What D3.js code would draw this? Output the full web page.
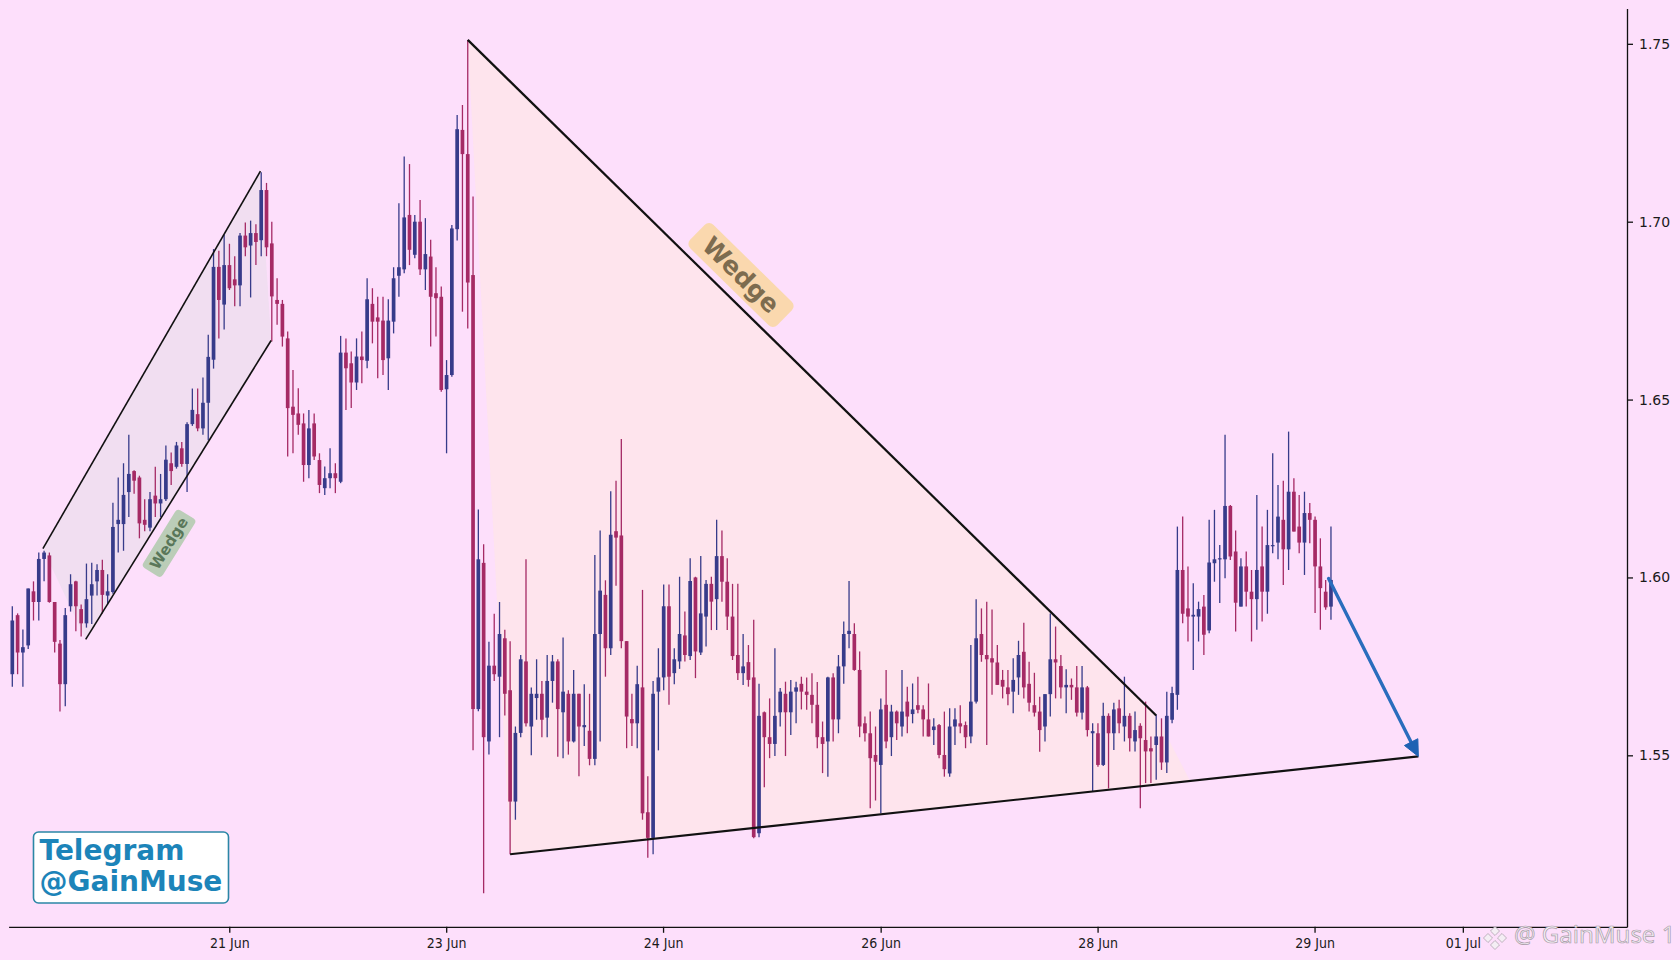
<!DOCTYPE html>
<html><head><meta charset="utf-8">
<script src="https://cdn.jsdelivr.net/npm/d3@7"></script>
<style>
html,body{margin:0;padding:0;background:#fddffb;}
svg{display:block;}
</style></head><body>
<svg id="chart" width="1680" height="960"></svg>
<script>
// ---- data (OHLC per candle, index order) ----
const opens=[1.5728,1.5894,1.5789,1.5809,1.5961,1.5931,1.6052,1.6062,1.5931,1.5814,1.5700,1.5919,1.5989,1.5911,1.5871,1.5949,1.5989,1.6021,1.5949,1.5959,
1.6150,1.6150,1.6240,1.6299,1.6281,1.6162,1.6140,1.6230,1.6208,1.6220,1.6321,1.6311,1.6363,1.6319,1.6431,1.6459,1.6419,1.6491,1.6612,1.6873,
1.6767,1.6878,1.6838,1.6821,1.6961,1.6933,1.6968,1.6948,1.7089,1.6939,1.6780,1.6769,1.6672,1.6480,1.6461,1.6433,1.6316,1.6433,1.6330,1.6251,
1.6279,1.6293,1.6269,1.6632,1.6602,1.6548,1.6621,1.6609,1.6769,1.6731,1.6722,1.6616,1.6719,1.6848,1.6866,1.7019,1.6907,1.7000,1.6866,1.6902,
1.6799,1.6789,1.6529,1.6569,1.6979,1.7258,1.7190,1.6850,1.5630,1.6041,1.5539,1.5752,1.5721,1.5829,1.5683,1.5370,1.5563,1.5764,1.5581,1.5661,
1.5673,1.5606,1.5709,1.5764,1.5621,1.5673,1.5539,1.5673,1.5579,1.5569,1.5490,1.5841,1.5951,1.5801,1.6130,1.6118,1.5821,1.5602,1.5590,1.5691,
1.5340,1.5268,1.5679,1.5719,1.5919,1.5731,1.5764,1.5837,1.5779,1.6000,1.5789,1.5890,1.5982,1.5939,1.6060,1.5988,1.5890,1.5782,1.5731,1.5762,
1.5719,1.5281,1.5621,1.5551,1.5532,1.5621,1.5673,1.5621,1.5679,1.5701,1.5679,1.5670,1.5642,1.5551,1.5539,1.5719,1.5601,1.5750,1.5841,1.5841,
1.5740,1.5590,1.5562,1.5501,1.5473,1.5642,1.5551,1.5623,1.5581,1.5651,1.5616,1.5641,1.5629,1.5601,1.5571,1.5585,1.5501,1.5449,1.5581,1.5590,
1.5585,1.5553,1.5651,1.5841,1.5782,1.5773,1.5761,1.5712,1.5691,1.5679,1.5719,1.5791,1.5701,1.5641,1.5623,1.5581,1.5672,1.5770,1.5751,1.5691,
1.5698,1.5691,1.5620,1.5691,1.5562,1.5562,1.5473,1.5611,1.5562,1.5632,1.5581,1.5611,1.5539,1.5583,1.5543,1.5520,1.5529,1.5553,1.5480,1.5600,
1.5670,1.6021,1.5913,1.5890,1.5890,1.5918,1.5851,1.6040,1.6051,1.6051,1.6201,1.6073,1.5918,1.6031,1.5960,1.5939,1.6031,1.5960,1.6089,1.6098,
1.6162,1.6079,1.6241,1.6143,1.6098,1.6181,1.6162,1.6031,1.5960,1.5918];
const highs=[1.5919,1.5899,1.5854,1.5969,1.5989,1.6070,1.6075,1.6070,1.5931,1.5824,1.5914,1.6009,1.5991,1.5924,1.6039,1.6041,1.6037,1.6050,1.6009,1.6210,
1.6281,1.6321,1.6401,1.6301,1.6286,1.6220,1.6240,1.6311,1.6291,1.6371,1.6351,1.6381,1.6381,1.6436,1.6531,1.6531,1.6562,1.6682,1.6923,1.6918,
1.6963,1.6938,1.6903,1.6968,1.6998,1.7003,1.6993,1.7139,1.7109,1.7000,1.6841,1.6780,1.6691,1.6583,1.6532,1.6461,1.6471,1.6461,1.6349,1.6312,
1.6363,1.6321,1.6679,1.6672,1.6635,1.6672,1.6691,1.6841,1.6813,1.6789,1.6789,1.6782,1.6872,1.7052,1.7183,1.7162,1.7019,1.7061,1.7010,1.6949,
1.6872,1.6818,1.6611,1.6991,1.7300,1.7328,1.7511,1.7071,1.6191,1.6093,1.5819,1.5898,1.5931,1.5853,1.5821,1.5581,1.5782,1.6051,1.5691,1.5770,
1.5709,1.5782,1.5782,1.5770,1.5831,1.5683,1.5740,1.5673,1.5700,1.5673,1.6063,1.6132,1.5992,1.6242,1.6272,1.6389,1.5821,1.5673,1.5752,1.5965,
1.5441,1.5709,1.5801,1.5980,1.5980,1.5801,1.6002,1.5904,1.6054,1.6002,1.6060,1.5993,1.6002,1.6162,1.6132,1.6054,1.5982,1.5982,1.5841,1.5810,
1.5881,1.5701,1.5623,1.5660,1.5801,1.5689,1.5707,1.5712,1.5707,1.5721,1.5719,1.5731,1.5706,1.5595,1.5721,1.5731,1.5782,1.5876,1.5990,1.5871,
1.5792,1.5609,1.5623,1.5581,1.5660,1.5740,1.5642,1.5626,1.5740,1.5693,1.5702,1.5721,1.5641,1.5702,1.5604,1.5588,1.5623,1.5632,1.5632,1.5641,
1.5595,1.5810,1.5939,1.5913,1.5932,1.5910,1.5810,1.5740,1.5740,1.5773,1.5822,1.5873,1.5763,1.5732,1.5665,1.5672,1.5899,1.5862,1.5782,1.5742,
1.5716,1.5751,1.5751,1.5695,1.5590,1.5590,1.5648,1.5618,1.5648,1.5656,1.5721,1.5618,1.5623,1.5590,1.5651,1.5553,1.5614,1.5604,1.5679,1.5693,
1.6143,1.6171,1.6031,1.5984,1.5932,1.5951,1.6162,1.6190,1.6091,1.6401,1.6204,1.6132,1.6054,1.6073,1.6021,1.6232,1.6143,1.6190,1.6349,1.6260,
1.6272,1.6410,1.6279,1.6232,1.6241,1.6209,1.6171,1.6110,1.5993,1.6143];
const lows=[1.5693,1.5728,1.5693,1.5799,1.5879,1.5879,1.5989,1.5929,1.5789,1.5623,1.5638,1.5904,1.5849,1.5834,1.5859,1.5869,1.5949,1.5899,1.5924,1.5954,
1.6070,1.6075,1.6170,1.6235,1.6110,1.6130,1.6130,1.6170,1.6170,1.6215,1.6260,1.6306,1.6311,1.6240,1.6426,1.6411,1.6401,1.6386,1.6587,1.6672,
1.6697,1.6808,1.6762,1.6762,1.6903,1.6787,1.6878,1.6903,1.6903,1.6663,1.6710,1.6649,1.6340,1.6349,1.6401,1.6269,1.6279,1.6330,1.6237,1.6232,
1.6251,1.6237,1.6265,1.6471,1.6476,1.6527,1.6546,1.6588,1.6658,1.6560,1.6569,1.6527,1.6686,1.6789,1.6855,1.6878,1.6897,1.6850,1.6808,1.6649,
1.6677,1.6522,1.6349,1.6564,1.6947,1.6747,1.6700,1.5514,1.5624,1.5112,1.5502,1.5709,1.5551,1.5612,1.5222,1.5319,1.5551,1.5581,1.5500,1.5600,
1.5551,1.5551,1.5648,1.5496,1.5492,1.5502,1.5536,1.5441,1.5526,1.5472,1.5472,1.5539,1.5721,1.5782,1.5977,1.5801,1.5520,1.5526,1.5520,1.5319,
1.5212,1.5222,1.5514,1.5683,1.5642,1.5700,1.5743,1.5764,1.5768,1.5717,1.5782,1.5806,1.5852,1.5852,1.5932,1.5852,1.5768,1.5712,1.5698,1.5693,
1.5267,1.5270,1.5410,1.5492,1.5498,1.5581,1.5498,1.5557,1.5590,1.5629,1.5628,1.5590,1.5520,1.5450,1.5440,1.5539,1.5562,1.5701,1.5801,1.5738,
1.5551,1.5539,1.5351,1.5373,1.5337,1.5520,1.5498,1.5543,1.5553,1.5562,1.5590,1.5618,1.5553,1.5553,1.5529,1.5492,1.5440,1.5440,1.5529,1.5562,
1.5520,1.5534,1.5646,1.5763,1.5529,1.5670,1.5698,1.5660,1.5641,1.5618,1.5670,1.5660,1.5623,1.5609,1.5510,1.5539,1.5609,1.5660,1.5660,1.5618,
1.5656,1.5609,1.5601,1.5553,1.5398,1.5468,1.5470,1.5407,1.5515,1.5562,1.5539,1.5511,1.5511,1.5351,1.5422,1.5422,1.5431,1.5459,1.5450,1.5590,
1.5628,1.5871,1.5820,1.5740,1.5820,1.5782,1.5843,1.5988,1.5928,1.5998,1.6049,1.5848,1.5918,1.5918,1.5820,1.5853,1.5876,1.5898,1.6068,1.6051,
1.5979,1.6021,1.6129,1.6068,1.6007,1.6096,1.5900,1.5853,1.5909,1.5881];
const closes=[1.5879,1.5789,1.5804,1.5969,1.5931,1.6052,1.6070,1.5931,1.5819,1.5700,1.5894,1.5981,1.5919,1.5871,1.5939,1.5981,1.6021,1.5951,1.5961,1.6142,
1.6162,1.6232,1.6291,1.6272,1.6152,1.6148,1.6220,1.6208,1.6220,1.6331,1.6299,1.6371,1.6319,1.6431,1.6471,1.6419,1.6491,1.6620,1.6873,1.6780,
1.6878,1.6813,1.6821,1.6961,1.6928,1.6968,1.6943,1.7089,1.6928,1.6790,1.6769,1.6677,1.6476,1.6457,1.6429,1.6316,1.6419,1.6340,1.6260,1.6279,
1.6293,1.6279,1.6632,1.6588,1.6548,1.6621,1.6611,1.6782,1.6719,1.6719,1.6611,1.6722,1.6841,1.6872,1.7012,1.6921,1.7000,1.6866,1.6909,1.6789,
1.6785,1.6527,1.6569,1.6981,1.7260,1.7190,1.6829,1.5630,1.6051,1.5551,1.5752,1.5728,1.5841,1.5673,1.5370,1.5563,1.5770,1.5590,1.5673,1.5673,
1.5600,1.5709,1.5764,1.5630,1.5679,1.5539,1.5673,1.5581,1.5585,1.5490,1.5841,1.5963,1.5801,1.6120,1.6112,1.5821,1.5609,1.5590,1.5700,1.5337,
1.5268,1.5673,1.5719,1.5919,1.5721,1.5770,1.5841,1.5782,1.5990,1.5792,1.5899,1.5982,1.5932,1.6060,1.5988,1.5890,1.5779,1.5731,1.5750,1.5712,
1.5270,1.5611,1.5551,1.5532,1.5611,1.5679,1.5621,1.5679,1.5691,1.5679,1.5670,1.5642,1.5551,1.5532,1.5719,1.5601,1.5750,1.5841,1.5850,1.5740,
1.5581,1.5562,1.5492,1.5482,1.5629,1.5539,1.5623,1.5590,1.5623,1.5609,1.5629,1.5628,1.5601,1.5553,1.5581,1.5501,1.5461,1.5581,1.5601,1.5581,
1.5551,1.5651,1.5829,1.5782,1.5770,1.5761,1.5698,1.5693,1.5672,1.5712,1.5782,1.5691,1.5648,1.5620,1.5571,1.5672,1.5770,1.5761,1.5691,1.5698,
1.5691,1.5620,1.5691,1.5571,1.5568,1.5473,1.5611,1.5562,1.5629,1.5590,1.5611,1.5548,1.5571,1.5548,1.5511,1.5511,1.5553,1.5480,1.5611,1.5675,
1.6021,1.5898,1.5890,1.5895,1.5911,1.5839,1.6042,1.6051,1.6054,1.6201,1.6059,1.5929,1.6031,1.5960,1.5939,1.6021,1.5960,1.6091,1.6091,1.6171,
1.6079,1.6241,1.6129,1.6098,1.6181,1.6162,1.6031,1.5970,1.5916,1.5993];

const xTickPos=[40.97,81.93,122.88,163.97,204.93,245.9,273.9];
const xTickLabels=["21 Jun","23 Jun","24 Jun","26 Jun","28 Jun","29 Jun","01 Jul"];
const yTicks=[1.55,1.60,1.65,1.70,1.75];

// annotation geometry in data space: [candle index, price]
const smallWedgeUpper=[[5.78,1.6081],[46.85,1.7142]];
const smallWedgeLower=[[13.86,1.5826],[48.87,1.6666]];
const bigWedgeUpper=[[86,1.7511],[216,1.5612]];
const bigWedgeLower=[[94,1.5222],[265.5,1.5497]];
const bigWedgeFill=[[86,1.7511],[216,1.5612],[222.4,1.5428],[94,1.5222]];
const projection=[[248.55,1.5997],[265.5,1.5497]];
const bigLabel={i:137.6,p:1.6850,text:"Wedge"};
const smallLabel={i:29.6,p:1.6096,text:"Wedge"};
const brandLines=["Telegram","@GainMuse"];
const watermark="@ GainMuse 1";

// ---- drawing ----
const W=1680,H=960;
const svg=d3.select("#chart");
const x=d3.scaleLinear().domain([-0.7,304.9]).range([8.6,1627]);
const y=d3.scaleLinear().domain([1.5018,1.7599]).range([926.8,8.6]);
const candles=opens.map((o,i)=>({i,o,h:highs[i],l:lows[i],c:closes[i]}));
const UP="#373b8a", DOWN="#a52a65";

svg.append("rect").attr("width",W).attr("height",H).attr("fill","#fddffb");

const line=d3.line().x(d=>x(d[0])).y(d=>y(d[1]));

// fills
svg.append("path")
  .attr("d",line([smallWedgeUpper[0],smallWedgeUpper[1],smallWedgeLower[1],smallWedgeLower[0]])+"Z")
  .attr("fill","#dcdce2").attr("fill-opacity",0.38);
svg.append("path")
  .attr("d",line(bigWedgeFill)+"Z")
  .attr("fill","#ffe8e2").attr("fill-opacity",0.55);

// candles
const g=svg.append("g");
g.selectAll("line.wick").data(candles).join("line")
  .attr("x1",d=>x(d.i)).attr("x2",d=>x(d.i))
  .attr("y1",d=>y(d.h)).attr("y2",d=>y(d.l))
  .attr("stroke",d=>d.c>=d.o?UP:DOWN).attr("stroke-width",1.3);
const bw=3.7;
g.selectAll("rect.body").data(candles).join("rect")
  .attr("x",d=>x(d.i)-bw/2).attr("width",bw)
  .attr("y",d=>y(Math.max(d.o,d.c)))
  .attr("height",d=>Math.max(1.2,Math.abs(y(d.o)-y(d.c))))
  .attr("fill",d=>d.c>=d.o?UP:DOWN);

// wedge lines
[[smallWedgeUpper,1.6],[smallWedgeLower,1.6],[bigWedgeUpper,2.2],[bigWedgeLower,2.2]].forEach(([pts,w])=>{
  svg.append("path").attr("d",line(pts)).attr("fill","none").attr("stroke","#111").attr("stroke-width",w);
});

// projection arrow
{
  const [a,b]=projection;
  const x1=x(a[0]),y1=y(a[1]),x2=x(b[0]),y2=y(b[1]);
  const len=Math.hypot(x2-x1,y2-y1), ux=(x2-x1)/len, uy=(y2-y1)/len, px=-uy, py=ux;
  const hl=16, hw=7.5;
  const bx=x2-ux*hl, by=y2-uy*hl;
  svg.append("line").attr("x1",x1).attr("y1",y1).attr("x2",bx+ux*2).attr("y2",by+uy*2)
    .attr("stroke","#2a6dbd").attr("stroke-width",3.4).attr("stroke-linecap","round");
  svg.append("path").attr("d",`M${x2},${y2}L${bx+px*hw},${by+py*hw}L${bx-px*hw},${by-py*hw}Z`)
    .attr("fill","#1f62b3").attr("stroke","#1f62b3").attr("stroke-width",1);
}

// labels
function rotLabel(lbl,angle,fs,bwid,bhei,fill,fillOp,color,rx){
  const gg=svg.append("g").attr("transform",`translate(${x(lbl.i)},${y(lbl.p)}) rotate(${angle})`);
  gg.append("rect").attr("x",-bwid/2).attr("y",-bhei/2).attr("width",bwid).attr("height",bhei)
    .attr("rx",rx).attr("fill",fill).attr("fill-opacity",fillOp);
  gg.append("text").attr("text-anchor","middle").attr("dominant-baseline","central")
    .attr("font-family","DejaVu Sans, sans-serif").attr("font-weight","bold").attr("font-size",fs)
    .attr("fill",color).text(lbl.text);
}
const angBig=Math.atan2(y(bigWedgeUpper[1][1])-y(bigWedgeUpper[0][1]),x(bigWedgeUpper[1][0])-x(bigWedgeUpper[0][0]))*180/Math.PI;
const angSmall=Math.atan2(y(smallWedgeLower[1][1])-y(smallWedgeLower[0][1]),x(smallWedgeLower[1][0])-x(smallWedgeLower[0][0]))*180/Math.PI;
rotLabel(bigLabel,angBig,25,122,33,"#f9d7a0",0.85,"#7d6c4f",6);
rotLabel(smallLabel,angSmall,15,68,23,"#afcaab",0.85,"#5a775a",4);

// axes
const xAxis=d3.axisBottom(x).tickValues(xTickPos).tickFormat((d,i)=>xTickLabels[i]).tickSize(6).tickSizeOuter(0).tickPadding(5);
const gx=svg.append("g").attr("transform",`translate(0,${y.range()[0]})`).call(xAxis);
gx.selectAll("text").attr("font-family","DejaVu Sans Condensed, DejaVu Sans, sans-serif").attr("font-stretch","condensed").attr("font-size",14).attr("fill","#1a1a1a");
gx.selectAll("line,path").attr("stroke","#111").attr("stroke-width",1.3);

const yAxis=d3.axisRight(y).tickValues(yTicks).tickFormat(d3.format(".2f")).tickSize(6).tickSizeOuter(0).tickPadding(6);
const gy=svg.append("g").attr("transform",`translate(${x.range()[1]},0)`).call(yAxis);
gy.selectAll("text").attr("font-family","DejaVu Sans, sans-serif").attr("font-size",14).attr("fill","#1a1a1a");
gy.selectAll("line,path").attr("stroke","#111").attr("stroke-width",1.3);

// brand box
{
  const bg=svg.append("g");
  bg.append("rect").attr("x",33.5).attr("y",832).attr("width",195).attr("height",71).attr("rx",5)
    .attr("fill","#ffffff").attr("stroke","#2b86a6").attr("stroke-width",1.6);
  bg.selectAll("text").data(brandLines).join("text")
    .attr("x",39.5).attr("y",(d,i)=>859.5+i*31)
    .attr("font-family","DejaVu Sans, sans-serif").attr("font-weight","bold").attr("font-size",28)
    .attr("fill","#1c84b9").text(d=>d);
}

// watermark
{
  const wg=svg.append("g").attr("transform","translate(1495,938)");
  [[0,-7],[-7,0],[7,0],[0,7]].forEach(([dx,dy])=>{
    wg.append("rect").attr("x",dx-3.2).attr("y",dy-3.2).attr("width",6.4).attr("height",6.4)
      .attr("transform",`rotate(45 ${dx} ${dy})`).attr("fill","#f4eef4").attr("stroke","#b4a8b4").attr("stroke-width",0.8);
  });
  svg.append("text").attr("x",1514).attr("y",943).attr("font-family","Noto Sans, sans-serif").attr("font-size",24)
    .attr("fill","#f4eef4").attr("stroke","#a89ca8").attr("stroke-width",0.7).text(watermark);
}
</script>
</body></html>
